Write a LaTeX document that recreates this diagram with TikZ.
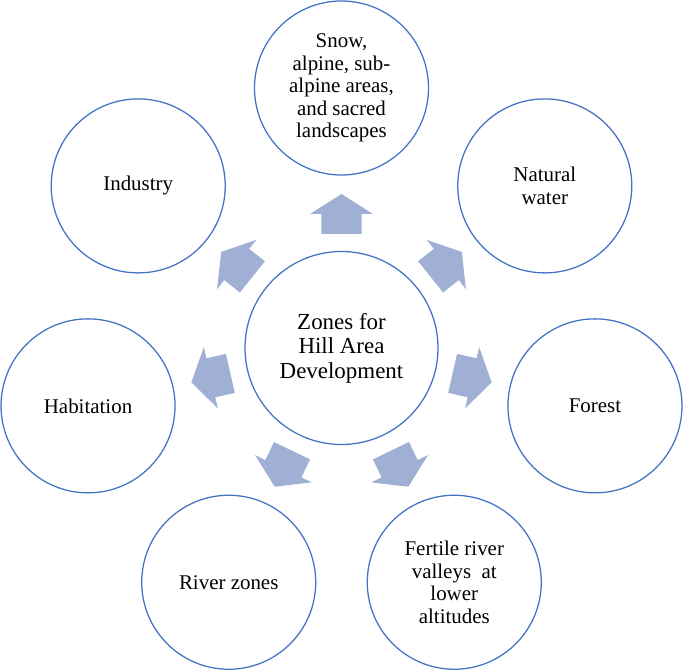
\documentclass[tikz,border=0pt]{standalone}
\usepackage{fontspec}
\setmainfont{Liberation Serif}
\definecolor{ringblue}{RGB}{68,114,196}
\definecolor{arrowfill}{RGB}{159,176,212}
\begin{document}
\begin{tikzpicture}[x=0.75pt,y=0.75pt,
  zone/.style={circle,draw=ringblue,line width=0.95pt,minimum size=130.5pt,inner sep=0pt,align=center,
    font=\fontsize{15.7}{16.9}\selectfont},
  hub/.style={circle,draw=ringblue,line width=0.95pt,minimum size=144.75pt,inner sep=0pt,align=center,
    font=\fontsize{17.2}{18.4}\selectfont},
  blockarrow/.style={fill=arrowfill,draw=none}]
\useasboundingbox (-341.5,-323) rectangle (343.5,348);
\node[hub] (c) at (0,0) {Zones for\\Hill Area\\Development};
\node[zone] (o1) at (90:260) {Snow,\\alpine, sub-\\alpine areas,\\and sacred\\landscapes};
\node[zone] (o2) at (38.57:260) {Natural\\water};
\node[zone] (o3) at (-12.86:260) {Forest};
\node[zone] (o4) at (-64.29:260) {Fertile river\\valleys~ at\\lower\\altitudes};
\node[zone] (o5) at (-115.71:260) {River zones};
\node[zone] (o6) at (-167.14:260) {Habitation};
\node[zone] (o7) at (141.43:260) {Industry};
\foreach \a in {90,38.57,-12.86,-64.29,-115.71,-167.14,141.43}{
  \begin{scope}[shift={(c.center)},rotate=\a]
    \fill[blockarrow] (114,-20) -- (134,-20) -- (134,-31.5) -- (154,0) -- (134,31.5) -- (134,20) -- (114,20) -- cycle;
  \end{scope}
}
\end{tikzpicture}
\end{document}
